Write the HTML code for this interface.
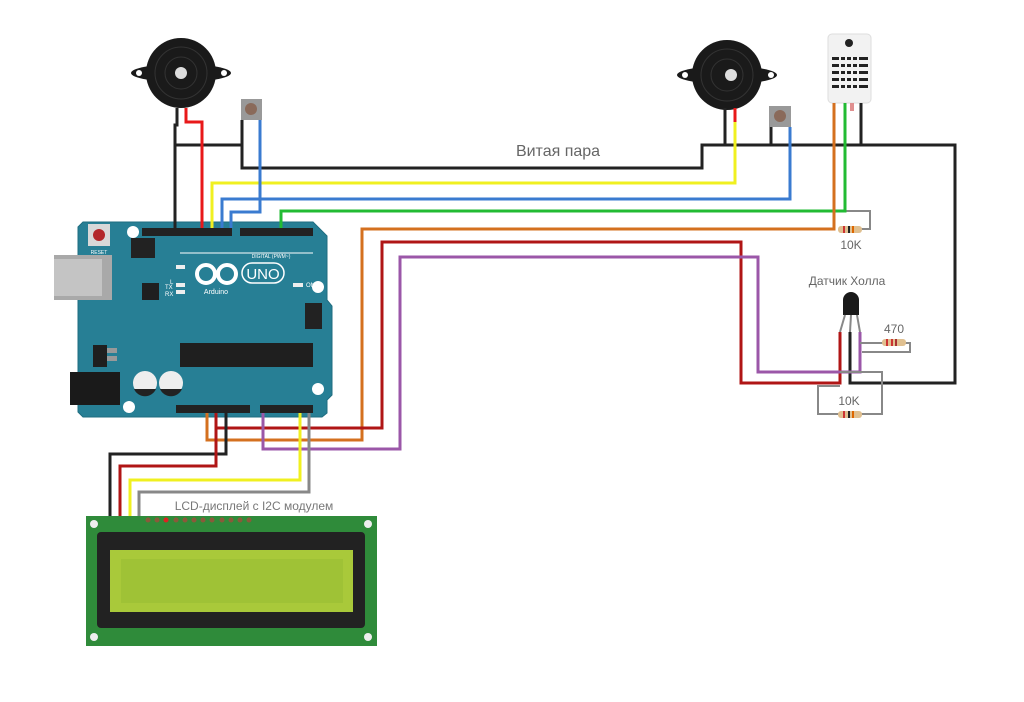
<!DOCTYPE html>
<html><head><meta charset="utf-8"><style>body{margin:0;background:#fff}svg{display:block}</style></head><body>
<svg width="1024" height="702" viewBox="0 0 1024 702" xmlns="http://www.w3.org/2000/svg" font-family="Liberation Sans, sans-serif">
<rect width="1024" height="702" fill="#fff"/>
<!-- Arduino -->
<path d="M83 222 H313 L327 236 V300 L332 306 V395 L327 400 V413 L322 417 H83 L78 412 V227 Z" fill="#277f95" stroke="#1f6d80"/>
<rect x="54" y="255" width="58" height="45" fill="#a9a9a9"/>
<rect x="54" y="259" width="48" height="37" fill="#c4c4c4"/>
<rect x="70" y="372" width="50" height="33" fill="#1a1a1a"/>
<rect x="88" y="224" width="22" height="22" fill="#d8d8d8"/><circle cx="99" cy="235" r="6" fill="#b3272a"/>
<text x="99" y="254" font-size="5" fill="#fff" text-anchor="middle">RESET</text>
<rect x="131" y="238" width="24" height="20" fill="#222"/>
<circle cx="133" cy="232" r="6" fill="#fff"/><circle cx="318" cy="287" r="6" fill="#fff"/><circle cx="129" cy="407" r="6" fill="#fff"/><circle cx="318" cy="389" r="6" fill="#fff"/>
<rect x="142" y="228" width="90" height="8" fill="#222"/><rect x="240" y="228" width="73" height="8" fill="#222"/>
<rect x="176" y="405" width="74" height="8" fill="#222"/><rect x="260" y="405" width="53" height="8" fill="#222"/>
<rect x="180" y="343" width="133" height="24" fill="#1f1f1f"/>
<rect x="142" y="283" width="17" height="17" fill="#1f1f1f"/>
<rect x="93" y="345" width="14" height="22" fill="#1f1f1f"/><rect x="107" y="348" width="10" height="5" fill="#999"/><rect x="107" y="356" width="10" height="5" fill="#999"/>
<rect x="305" y="303" width="17" height="26" fill="#222"/>
<circle cx="145" cy="383" r="12" fill="#eee"/><circle cx="171" cy="383" r="12" fill="#eee"/>
<path d="M134 389 A12 12 0 0 0 156 389 Z" fill="#222"/><path d="M160 389 A12 12 0 0 0 182 389 Z" fill="#222"/>
<rect x="176" y="265" width="9" height="4" fill="#eee"/><rect x="176" y="283" width="9" height="4" fill="#eee"/><rect x="176" y="290" width="9" height="4" fill="#eee"/><rect x="293" y="283" width="10" height="4" fill="#eee"/>
<circle cx="206" cy="274" r="9" fill="none" stroke="#fff" stroke-width="4"/><circle cx="227" cy="274" r="9" fill="none" stroke="#fff" stroke-width="4"/>
<rect x="242" y="263" width="42" height="20" rx="10" fill="none" stroke="#fff" stroke-width="1.5"/>
<text x="263" y="279" font-size="15" fill="#fff" text-anchor="middle">UNO</text>
<text x="216" y="294" font-size="7" fill="#fff" text-anchor="middle">Arduino</text>
<text x="271" y="258" font-size="5" fill="#fff" text-anchor="middle">DIGITAL (PWM~)</text>
<text x="170" y="284" font-size="6" fill="#fff">L</text><text x="165" y="289" font-size="6" fill="#fff">TX</text><text x="165" y="296" font-size="6" fill="#fff">RX</text>
<text x="306" y="287" font-size="6" fill="#fff">ON</text>
<line x1="180" y1="253" x2="313" y2="253" stroke="#fff" stroke-width="1"/>
<!-- Left buzzer -->
<ellipse cx="181" cy="73" rx="50" ry="9" fill="#1a1a1a"/>
<circle cx="181" cy="73" r="35" fill="#1a1a1a"/><circle cx="181" cy="73" r="26" fill="none" stroke="#333"/><circle cx="181" cy="73" r="16" fill="none" stroke="#333"/>
<circle cx="181" cy="73" r="6" fill="#ddd"/><circle cx="139" cy="73" r="3" fill="#fff"/><circle cx="224" cy="73" r="3" fill="#fff"/>
<!-- Right buzzer -->
<ellipse cx="727" cy="75" rx="50" ry="9" fill="#1a1a1a"/>
<circle cx="727" cy="75" r="35" fill="#1a1a1a"/><circle cx="727" cy="75" r="26" fill="none" stroke="#333"/><circle cx="727" cy="75" r="16" fill="none" stroke="#333"/>
<circle cx="731" cy="75" r="6" fill="#ddd"/><circle cx="685" cy="75" r="3" fill="#fff"/><circle cx="771" cy="75" r="3" fill="#fff"/>
<!-- buttons -->
<rect x="241" y="99" width="21" height="21" fill="#999"/><circle cx="251" cy="109" r="6" fill="#8a6a5a"/>
<rect x="769" y="106" width="22" height="21" fill="#999"/><circle cx="780" cy="116" r="6" fill="#8a6a5a"/>
<!-- DHT -->
<rect x="828" y="34" width="43" height="69" rx="4" fill="#f2f2f2" stroke="#ddd"/>
<circle cx="849" cy="43" r="4" fill="#222"/>
<g fill="#222"><rect x="832" y="57" width="36" height="3"/><rect x="832" y="64" width="36" height="3"/><rect x="832" y="71" width="36" height="3"/><rect x="832" y="78" width="36" height="3"/><rect x="832" y="85" width="36" height="3"/></g>
<g stroke="#f2f2f2" stroke-width="2"><line x1="840" y1="55" x2="840" y2="90"/><line x1="846" y1="55" x2="846" y2="90"/><line x1="852" y1="55" x2="852" y2="90"/><line x1="858" y1="55" x2="858" y2="90"/></g>
<rect x="850" y="103" width="4" height="8" fill="#e09090"/>
<!-- wires -->
<g fill="none" stroke-width="3" stroke-linejoin="miter">
<path d="M177 108 V125 H175 V228" stroke="#222"/>
<path d="M175 145 H242" stroke="#222"/>
<path d="M242 120 V168 H702 V145 H955 V383 H850 V332" stroke="#222"/>
<path d="M725 108 V145" stroke="#222"/><path d="M771 127 V145" stroke="#222"/><path d="M861 103 V145" stroke="#222"/>
<path d="M186 108 V122 H202 V228" stroke="#e8181a"/>
<path d="M735 108 V122" stroke="#e8181a"/>
<path d="M212 228 V183 H735 V122" stroke="#f0f020"/>
<path d="M222 228 V199 H790 V127" stroke="#3a7bd0"/>
<path d="M231 228 V212 H260 V120" stroke="#3a7bd0"/>
<path d="M845 211 H870 V229 H860" stroke="#888" stroke-width="2"/>
<path d="M281 228 V211 H845 V103" stroke="#22bb33"/>
<path d="M207 413 V440 H362 V229 H834 V103" stroke="#d4701f"/>
<path d="M216 413 V428 H382 V242 H741 V383 H840 V332" stroke="#b01515"/>
<path d="M263 413 V449 H400 V257 H758 V372 H860 V332" stroke="#9b57a8"/>
<path d="M226 413 V454 H110 V520" stroke="#222"/>
<path d="M216 428 V466 H120 V520" stroke="#b01515"/>
<path d="M300 413 V480 H130 V520" stroke="#f0f020"/>
<path d="M309 413 V492 H139 V520" stroke="#888"/>
<path d="M860 343 H910 V352 H862" stroke="#888" stroke-width="2"/>
<path d="M840 372 H882 V414 H818 V386 H840" stroke="#888" stroke-width="2"/>
</g>
<!-- resistors -->
<g><rect x="838" y="226" width="24" height="7" rx="3" fill="#e0c090"/><rect x="843" y="226" width="2" height="7" fill="#c33"/><rect x="848" y="226" width="2" height="7" fill="#222"/><rect x="852" y="226" width="2" height="7" fill="#d60"/></g>
<g><rect x="882" y="339" width="24" height="7" rx="3" fill="#e0c090"/><rect x="886" y="339" width="2" height="7" fill="#c33"/><rect x="891" y="339" width="2" height="7" fill="#c33"/><rect x="895" y="339" width="2" height="7" fill="#a33"/></g>
<g><rect x="838" y="411" width="24" height="7" rx="3" fill="#e0c090"/><rect x="843" y="411" width="2" height="7" fill="#c33"/><rect x="848" y="411" width="2" height="7" fill="#222"/><rect x="852" y="411" width="2" height="7" fill="#d60"/></g>
<!-- hall -->
<path d="M843 315 V300 A8 8 0 0 1 859 300 V315 Z" fill="#1a1a1a"/>
<g stroke="#888" stroke-width="2"><line x1="845" y1="315" x2="840" y2="332"/><line x1="851" y1="315" x2="850" y2="332"/><line x1="857" y1="315" x2="860" y2="332"/></g>
<!-- LCD -->
<rect x="86" y="516" width="291" height="130" fill="#2f8b3a"/>
<circle cx="94" cy="524" r="4" fill="#eee"/><circle cx="368" cy="524" r="4" fill="#eee"/><circle cx="94" cy="637" r="4" fill="#eee"/><circle cx="368" cy="637" r="4" fill="#eee"/>
<g fill="#8a5a3a"><circle cx="148" cy="520" r="2.5"/><circle cx="157" cy="520" r="2.5"/><circle cx="176" cy="520" r="2.5"/><circle cx="185" cy="520" r="2.5"/><circle cx="194" cy="520" r="2.5"/><circle cx="203" cy="520" r="2.5"/><circle cx="212" cy="520" r="2.5"/><circle cx="222" cy="520" r="2.5"/><circle cx="231" cy="520" r="2.5"/><circle cx="240" cy="520" r="2.5"/><circle cx="249" cy="520" r="2.5"/></g>
<circle cx="166" cy="520" r="2.5" fill="#d22"/>
<rect x="97" y="532" width="268" height="96" rx="4" fill="#222"/>
<rect x="110" y="550" width="243" height="62" fill="#a9c93a"/>
<rect x="121" y="559" width="222" height="44" fill="#9fc236"/>
<text x="558" y="156" font-size="16" fill="#666" text-anchor="middle">Витая пара</text>
<text x="851" y="249" font-size="12" fill="#666" text-anchor="middle">10K</text>
<text x="847" y="285" font-size="12" fill="#666" text-anchor="middle">Датчик Холла</text>
<text x="894" y="333" font-size="12" fill="#666" text-anchor="middle">470</text>
<text x="849" y="405" font-size="12" fill="#666" text-anchor="middle">10K</text>
<text x="254" y="510" font-size="12" fill="#777" text-anchor="middle">LCD-дисплей с I2C модулем</text>
</svg>
</body></html>
